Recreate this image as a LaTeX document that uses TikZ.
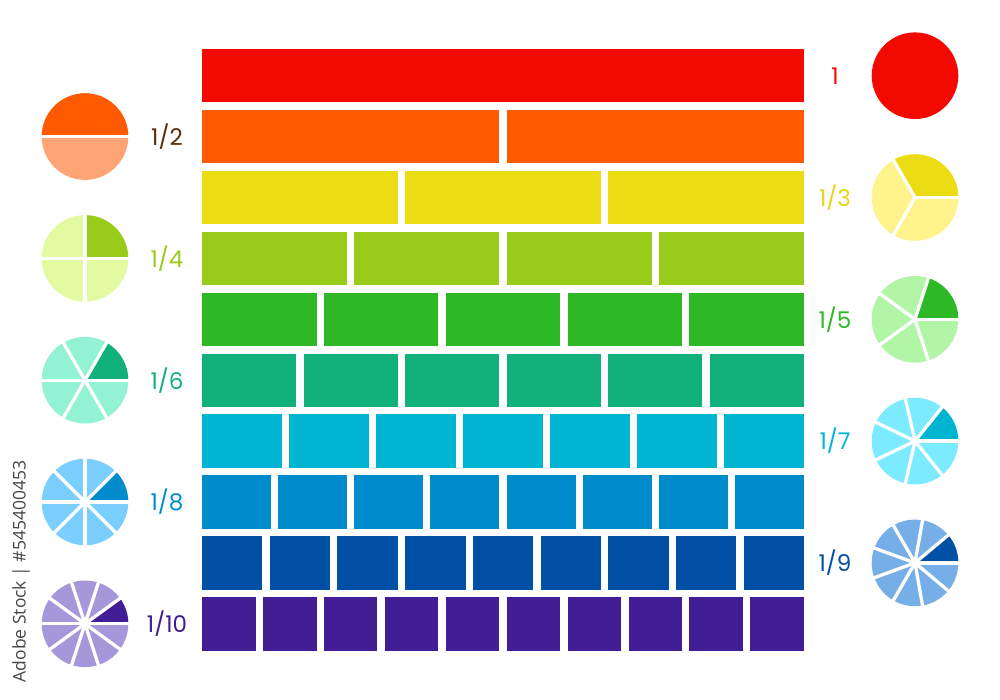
\documentclass[tikz,border=0pt]{standalone}
\usepackage{fontspec}
\setmainfont{Poppins}
\newfontfamily\wmfont{Open Sans}
\definecolor{c1}{HTML}{F20A00}
\definecolor{c2}{HTML}{FF5A00}
\definecolor{c3}{HTML}{EBDC14}
\definecolor{c4}{HTML}{99CC1A}
\definecolor{c5}{HTML}{2DB826}
\definecolor{c6}{HTML}{12B07A}
\definecolor{c7}{HTML}{00B5D2}
\definecolor{c8}{HTML}{008CCC}
\definecolor{c9}{HTML}{0050A5}
\definecolor{c10}{HTML}{421E96}
\definecolor{l2}{HTML}{FFA575}
\definecolor{l3}{HTML}{FFF48C}
\definecolor{l4}{HTML}{E2FBA0}
\definecolor{l5}{HTML}{B2F5A6}
\definecolor{l6}{HTML}{93F2D3}
\definecolor{l7}{HTML}{7DEBFF}
\definecolor{l8}{HTML}{7BCFFF}
\definecolor{l9}{HTML}{76AEE8}
\definecolor{l10}{HTML}{A697DA}
\definecolor{t2}{HTML}{5A2D0C}
\definecolor{t3}{HTML}{E6D615}
\newcommand\mypie[5]{%
  \fill[#5] (#1,#2) circle (43.3);
  \fill[#4] (#1,#2) -- ++(0:43.3) arc[start angle=0,end angle={360/#3},radius=43.3] -- cycle;
  \foreach \k in {1,...,#3} \draw[white,line width=3.3pt] (#1,#2) -- ++({360/#3*\k}:45);
}
\tikzset{frac/.style={font=\fontsize{23}{23}\selectfont, anchor=center}}
\begin{document}
\begin{tikzpicture}[x=1pt,y=1pt]
\useasboundingbox (0,0) rectangle (1000,-700);
\fill[white] (0,0) rectangle (1000,-700);
% bars
\foreach \n in {1,...,10} {
  \pgfmathsetmacro\w{(602-(\n-1)*7.3)/\n}
  \pgfmathsetmacro\ytop{49+60.9*(\n-1)}
  \foreach \k in {1,...,\n} {
    \fill[c\n] ({202+(\k-1)*(\w+7.3)}, -\ytop) rectangle ++(\w,-53.4);
  }
}
% right: whole
\fill[c1] (915,-75.7) circle (43.3);
\node[frac,text=c1] (f1) at (835,-75.7) {1};
% pies
\mypie{85}{-136.6}{2}{c2}{l2}
\node[frac,text=t2] (f2) at (167,-136.6) {1/2};
\mypie{915}{-197.5}{3}{c3}{l3}
\node[frac,text=t3] (f3) at (835,-197.5) {1/3};
\mypie{85}{-258.4}{4}{c4}{l4}
\node[frac,text=c4] (f4) at (167,-258.4) {1/4};
\mypie{915}{-319.3}{5}{c5}{l5}
\node[frac,text=c5] (f5) at (835,-319.3) {1/5};
\mypie{85}{-380.2}{6}{c6}{l6}
\node[frac,text=c6] (f6) at (167,-380.2) {1/6};
\mypie{915}{-441.1}{7}{c7}{l7}
\node[frac,text=c7] (f7) at (835,-441.1) {1/7};
\mypie{85}{-502}{8}{c8}{l8}
\node[frac,text=c8] (f8) at (167,-502) {1/8};
\mypie{915}{-562.9}{9}{c9}{l9}
\node[frac,text=c9] (f9) at (835,-562.9) {1/9};
\mypie{85}{-623.8}{10}{c10}{l10}
\node[frac,text=c10] (f10) at (167,-623.8) {1/10};
% stock label
\node[rotate=90, font=\wmfont\fontsize{17.5}{17.5}\selectfont, text=black!72] (wm) at (21,-571.5) {Adobe Stock | \#545400453};
\end{tikzpicture}
\end{document}
